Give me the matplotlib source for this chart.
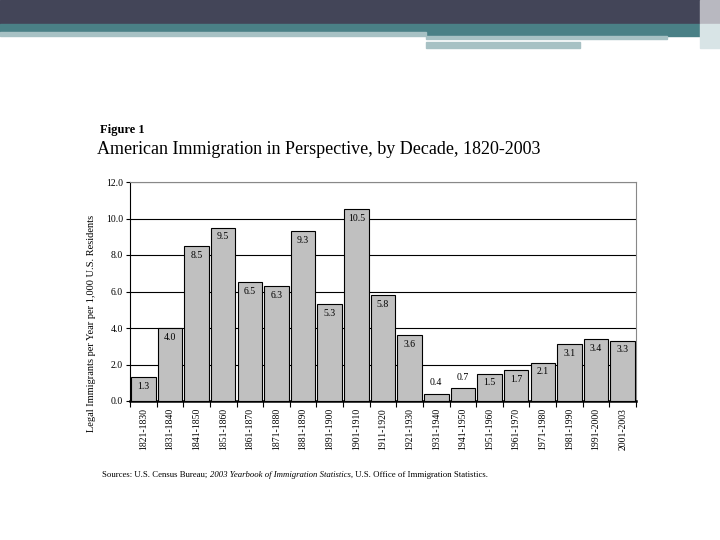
import matplotlib
matplotlib.use('Agg')
import matplotlib.pyplot as plt
import numpy as np
from matplotlib.patches import Rectangle

plt.rcParams['font.family'] = ['Liberation Serif', 'DejaVu Serif']

decades = ['1821-1830', '1831-1840', '1841-1850', '1851-1860', '1861-1870',
           '1871-1880', '1881-1890', '1891-1900', '1901-1910', '1911-1920',
           '1921-1930', '1931-1940', '1941-1950', '1951-1960', '1961-1970',
           '1971-1980', '1981-1990', '1991-2000', '2001-2003']
rates = [1.3, 4.0, 8.5, 9.5, 6.5, 6.3, 9.3, 5.3, 10.5, 5.8,
         3.6, 0.4, 0.7, 1.5, 1.7, 2.1, 3.1, 3.4, 3.3]
yticks = [0.0, 2.0, 4.0, 6.0, 8.0, 10.0, 12.0]

fig = plt.figure(figsize=(7.2, 5.4), dpi=100)

# slide header decoration
W, H = 720, 540
def band(x0, y0, x1, y1, color):
    fig.patches.append(Rectangle((x0 / W, 1 - y1 / H), (x1 - x0) / W, (y1 - y0) / H,
                                 transform=fig.transFigure, color=color, zorder=0))
band(0, 0, 720, 24, '#434558')
band(0, 24, 700, 32, '#4a8086')
band(426, 32, 700, 36, '#4a8086')
band(0, 32, 426, 36, '#a7c1c4')
band(426, 36, 667, 39, '#a7c1c4')
band(426, 42, 580, 48, '#a7c1c4')
band(700, 0, 720, 24, '#b8b8c0')
band(700, 24, 720, 48, '#d8e4e6')

ax = fig.add_axes([130 / W, 1 - 401 / H, 506 / W, 219 / H])
x = np.arange(len(decades))
ax.bar(x, rates, width=0.92, color='#c0c0c0', edgecolor='black', linewidth=0.8, zorder=3)

for xi, v in zip(x, rates):
    y = v - 0.5 if v >= 1 else v + 0.6
    ax.text(xi, y, f'{v:.1f}', ha='center', va='center', fontsize=7, zorder=4)

ax.set_xlim(-0.5, len(decades) - 0.5)
ax.set_ylim(0, 12)
ax.set_yticks(yticks)
ax.set_yticklabels([f'{t:.1f}' for t in yticks], fontsize=7)
ax.yaxis.grid(True, color='black', linewidth=0.8, zorder=0)
ax.set_axisbelow(True)
ax.set_xticks(x)
ax.set_xticklabels(decades, rotation=90, fontsize=7)
ax.set_xticks(np.arange(len(decades) + 1) - 0.5, minor=True)
ax.tick_params(axis='x', which='major', length=0, pad=5)
ax.tick_params(axis='x', which='minor', length=4, direction='out', width=0.8)
ax.tick_params(axis='y', length=3, width=0.8, pad=2)
ax.spines['bottom'].set_linewidth(1.8)
ax.spines['left'].set_linewidth(0.8)
for s in ['top', 'right']:
    ax.spines[s].set_color('#888888')
    ax.spines[s].set_linewidth(0.8)

fig.text(92 / W, 1 - 323 / H, 'Legal Immigrants per Year per 1,000 U.S. Residents',
         rotation=90, ha='center', va='center', fontsize=7.5)

fig.text(100 / W, 1 - 130 / H, 'Figure 1', fontsize=9, fontweight='bold', va='center')
fig.text(97 / W, 1 - 150 / H, 'American Immigration in Perspective, by Decade, 1820-2003',
         fontsize=13.0, va='center')

t1 = fig.text(102 / W, 1 - 477 / H, 'Sources: U.S. Census Bureau; ', fontsize=6.3, va='baseline')
t2 = fig.text(0, 0, '2003 Yearbook of Immigration Statistics,', fontsize=6.3, style='italic')
t3 = fig.text(0, 0, ' U.S. Office of Immigration Statistics.', fontsize=6.3)
fig.canvas.draw()
r = fig.canvas.get_renderer()
b1 = t1.get_window_extent(r)
t2.set_position((b1.x1 / fig.bbox.width, t1.get_position()[1]))
t2.set_va('baseline')
fig.canvas.draw()
b2 = t2.get_window_extent(r)
t3.set_position((b2.x1 / fig.bbox.width, t1.get_position()[1]))
t3.set_va('baseline')

fig.savefig('out.png', dpi=100)
